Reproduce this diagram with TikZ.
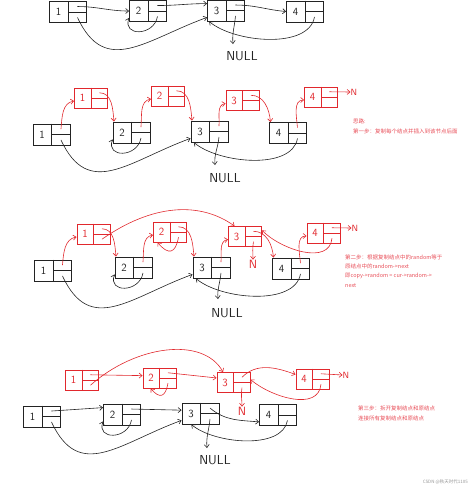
\documentclass[tikz,border=0pt]{standalone}
\usepackage{fontspec}
\newfontfamily\cjkf{Noto Sans CJK SC}
\usetikzlibrary{calc,arrows.meta}
\definecolor{blk}{RGB}{35,35,35}
\definecolor{rd}{RGB}{225,40,45}
\definecolor{tred}{RGB}{232,80,90}
\definecolor{wm}{RGB}{150,150,150}
\tikzset{
 bbox/.style={draw=blk, minimum width=37pt, minimum height=21pt, inner sep=0pt, line width=0.9pt},
 rbox/.style={draw=rd, minimum width=33pt, minimum height=20pt, inner sep=0pt, line width=0.9pt},
 lbl/.style={font=\sffamily\fontsize{11}{11}\selectfont, inner sep=0pt},
 arr/.style={line width=0.6pt, -{Straight Barb[length=3pt,width=5pt]}},
 barr/.style={arr, draw=blk},
 rarr/.style={arr, draw=rd},
 nulltxt/.style={font=\sffamily\fontsize{13}{13}\selectfont, text=blk, inner sep=0pt},
 ntxt/.style={font=\sffamily\fontsize{9}{9}\selectfont, text=rd, inner sep=0pt},
 bigntxt/.style={font=\sffamily\fontsize{12}{12}\selectfont, text=rd, inner sep=0pt},
 note/.style={font=\cjkf\fontsize{5.5}{5.5}\selectfont, text=tred, inner sep=0pt, anchor=west},
}
\newcommand\mklist[5]{%
 \node[#2] (#1) at (#3) {};
 \draw[#5, line width=0.8pt] (#1.north) -- (#1.south) (#1.center) -- (#1.east);
 \coordinate (#1n) at ($(#1.center)!0.5!(#1.north east)$);
 \coordinate (#1r) at ($(#1.center)!0.5!(#1.south east)$);
 \node[lbl, text=#5] (#1t) at ($(#1.west)!0.5!(#1.center)$) {#4};
}
\begin{document}
\begin{tikzpicture}[x=1pt,y=1pt]
\useasboundingbox (0,0) rectangle (474,-488);
% ---------- panel 1
\mklist{P1B1}{bbox}{68,-12}{1}{blk}
\mklist{P1B2}{bbox}{148,-11}{2}{blk}
\mklist{P1B3}{bbox}{226,-10.5}{3}{blk}
\mklist{P1B4}{bbox}{305,-11.5}{4}{blk}
\node[nulltxt] (P1null) at (242,-56) {NULL};
\coordinate (P1nt) at (233,-44);
\draw[barr] (P1B1n) to[out=0,in=180] (P1B2.west);
\draw[barr] (P1B2n) to[out=0,in=180] (P1B3.160);
\draw[barr] (P1B3n) to[out=0,in=175] (P1B4.west);
\draw[barr] (P1B1r) to[out=-65,in=-160,looseness=1.3] (P1B3.200);
\draw[barr] (P1B2r) to[out=-100,in=-110,looseness=1.8] (P1B2.200);
\draw[barr] (P1B3r) to[out=-95,in=95] (P1nt);
\draw[barr] (P1B4r) to[out=-100,in=-40,looseness=0.8] (P1B3.213);
% ---------- panel 2
\mklist{P2B1}{bbox}{51.5,-134.5}{1}{blk}
\mklist{P2B2}{bbox}{131.5,-132.5}{2}{blk}
\mklist{P2B3}{bbox}{209.5,-131.5}{3}{blk}
\mklist{P2B4}{bbox}{288,-133}{4}{blk}
\mklist{P2R1}{rbox}{91,-98}{1}{rd}
\mklist{P2R2}{rbox}{168,-96}{2}{rd}
\mklist{P2R3}{rbox}{242.5,-100.5}{3}{rd}
\mklist{P2R4}{rbox}{321,-97}{4}{rd}
\node[nulltxt] (P2null) at (225,-178) {NULL};
\coordinate (P2nt) at (215,-165);
\node[ntxt] (P2N) at (354,-92) {N};
\draw[rarr] (P2B1n) to[out=85,in=-170] (P2R1.190);
\draw[rarr] (P2R1n) to[out=0,in=95] (P2B2.148);
\draw[rarr] (P2B2n) to[out=85,in=-170] (P2R2.190);
\draw[rarr] (P2R2n) to[out=0,in=95] (P2B3.148);
\draw[rarr] (P2B3n) to[out=85,in=-170] (P2R3.190);
\draw[rarr] (P2R3n) to[out=0,in=95] (P2B4.148);
\draw[rarr] (P2B4n) to[out=95,in=180] (P2R4.190);
\draw[rarr] (P2R4n) -- (P2N.west);
\draw[barr] (P2B1r) to[out=-65,in=-160,looseness=1.3] (P2B3.200);
\draw[barr] (P2B2r) to[out=-100,in=-110,looseness=1.8] (P2B2.200);
\draw[barr] (P2B3r) to[out=-95,in=95] (P2nt);
\draw[barr] (P2B4r) to[out=-100,in=-40,looseness=0.8] (P2B3.215);
\node[note] (t1a) at (353,-121) {思路:};
\node[note] (t1b) at (353,-131) {第一步：复制每个结点并插入到该节点后面};
% ---------- panel 3
\mklist{P3B1}{bbox}{53,-270.5}{1}{blk}
\mklist{P3B2}{bbox}{133.5,-267.5}{2}{blk}
\mklist{P3B3}{bbox}{211.5,-267.5}{3}{blk}
\mklist{P3B4}{bbox}{291,-268.5}{4}{blk}
\mklist{P3R1}{rbox}{93.5,-234}{1}{rd}
\mklist{P3R2}{rbox}{170,-232}{2}{rd}
\mklist{P3R3}{rbox}{245,-236.5}{3}{rd}
\mklist{P3R4}{rbox}{323.5,-233}{4}{rd}
\node[nulltxt] (P3null) at (227,-313) {NULL};
\coordinate (P3nt) at (218,-299);
\node[ntxt] (P3N) at (355,-228) {N};
\node[bigntxt] (P3N3) at (253,-264) {N};
\draw[rarr] (P3B1n) to[out=85,in=-170] (P3R1.190);
\draw[rarr] (P3R1n) to[out=0,in=95] (P3B2.148);
\draw[rarr] (P3B2n) to[out=85,in=-170] (P3R2.190);
\draw[rarr] (P3R2n) to[out=0,in=95] (P3B3.148);
\draw[rarr] (P3B3n) to[out=85,in=-170] (P3R3.190);
\draw[rarr] (P3R3n) to[out=0,in=95] (P3B4.148);
\draw[rarr] (P3B4n) to[out=95,in=180] (P3R4.190);
\draw[rarr] (P3R4n) -- (P3N.west);
\draw[rarr] (P3R1r) .. controls +(50,35) and +(-35,25) .. (P3R3.135);
\draw[rarr] (P3R2r) to[out=-100,in=-50,looseness=2] (P3R2.220);
\draw[rarr] (P3R3r) to[out=-100,in=90] (P3N3.north);
\draw[rarr] (P3R4r) to[out=-95,in=-45] (P3R3.20);
\draw[barr] (P3B1r) to[out=-65,in=-160,looseness=1.3] (P3B3.200);
\draw[barr] (P3B2r) to[out=-100,in=-110,looseness=1.8] (P3B2.200);
\draw[barr] (P3B3r) to[out=-95,in=95] (P3nt);
\draw[barr] (P3B4r) to[out=-100,in=-40,looseness=0.8] (P3B3.215);
\node[note] (t2a) at (345,-257) {第二步：根据复制结点中的random等于};
\node[note] (t2b) at (345,-266.5) {原结点中的random->next};
\node[note] (t2c) at (345,-276) {即copy->random = cur->random->};
\node[note] (t2d) at (345,-285.5) {next};
% ---------- panel 4
\mklist{P4B1}{bbox}{42,-416.5}{1}{blk}
\mklist{P4B2}{bbox}{122,-414.5}{2}{blk}
\mklist{P4B3}{bbox}{200.5,-413.5}{3}{blk}
\mklist{P4B4}{bbox}{278,-415}{4}{blk}
\mklist{P4R1}{rbox}{82,-380}{1}{rd}
\mklist{P4R2}{rbox}{159.5,-378}{2}{rd}
\mklist{P4R3}{rbox}{233.5,-382.5}{3}{rd}
\mklist{P4R4}{rbox}{312.5,-379}{4}{rd}
\node[nulltxt] (P4null) at (215,-460) {NULL};
\coordinate (P4nt) at (207,-448);
\node[ntxt] (P4N) at (346,-375) {N};
\node[bigntxt] (P4N3) at (242,-411) {N};
\draw[rarr] (P4R1n) -- (P4R2.172);
\draw[rarr] (P4R2n) -- (P4R3.165);
\draw[rarr] (P4R3n) to[out=45,in=160] (P4R4.165);
\draw[rarr] (P4R4n) -- (P4N.west);
\draw[rarr] (P4R1r) .. controls +(45,40) and +(-20,36) .. (P4R3.135);
\draw[rarr] (P4R2r) to[out=-100,in=-50,looseness=2] (P4R2.230);
\draw[rarr] (P4R3r) to[out=-100,in=90] (P4N3.north);
\draw[rarr] (P4R4r) to[out=-95,in=-40] (P4R3.10);
\draw[barr] (P4B1n) -- (P4B2.160);
\draw[barr] (P4B2n) -- (P4B3.170);
\draw[barr] (P4B3n) to[out=-40,in=175] (P4B4.200);
\draw[barr] (P4B1r) to[out=-65,in=-160,looseness=1.3] (P4B3.200);
\draw[barr] (P4B2r) to[out=-100,in=-110,looseness=1.8] (P4B2.200);
\draw[barr] (P4B3r) to[out=-95,in=95] (P4nt);
\draw[barr] (P4B4r) to[out=-100,in=-40,looseness=0.8] (P4B3.230);
\node[note] (t3a) at (358,-408) {第三步：拆开复制结点和原结点};
\node[note] (t3b) at (358,-418) {连接所有复制结点和原结点};
\node[font=\cjkf\fontsize{4.5}{4.5}\selectfont, text=wm, anchor=east, inner sep=0pt] (wmk) at (468,-482) {CSDN @秋天时代1105};
\end{tikzpicture}
\end{document}
